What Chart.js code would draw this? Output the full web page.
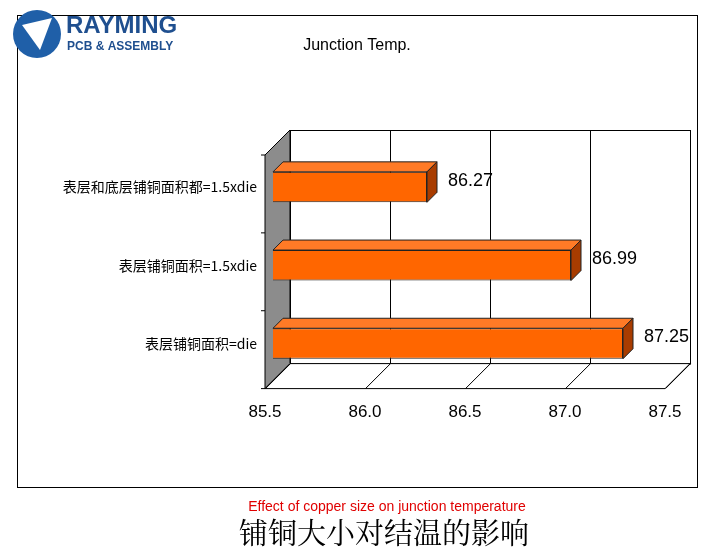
<!DOCTYPE html>
<html><head><meta charset="utf-8">
<script src="https://cdn.jsdelivr.net/npm/chart.js@4"></script>
<style>body{margin:0;background:#fff;}canvas{display:block}</style>
</head><body>
<canvas id="c" width="717" height="560"></canvas>
<script>
const categories = ["表层和底层铺铜面积都=1.5xdie", "表层铺铜面积=1.5xdie", "表层铺铜面积=die"];
const values = [86.27, 86.99, 87.25];
const xTicks = [85.5, 86.0, 86.5, 87.0, 87.5];

const D = 25, d = 10, S = 8;
const deco = {
  id: 'deco',
  beforeDraw(chart) {
    const c = chart.ctx;
    c.save();
    c.fillStyle = '#fff'; c.fillRect(0,0,717,560);
    c.strokeStyle = '#000'; c.lineWidth = 1;
    c.strokeRect(17.5,15.5,680,472);
    c.fillStyle = '#1f5fa8';
    c.beginPath(); c.arc(37,34,24,0,Math.PI*2); c.fill();
    c.fillStyle = '#fff';
    c.beginPath(); c.moveTo(22,25); c.lineTo(52,18); c.lineTo(40,50); c.closePath(); c.fill();
    c.fillStyle = '#1f4f8f';
    c.font = 'bold 24px "Liberation Sans", Arial';
    c.textBaseline = 'alphabetic'; c.textAlign = 'left';
    c.fillText('RAYMING', 66, 33);
    c.font = 'bold 12px "Liberation Sans", Arial';
    c.fillText('PCB & ASSEMBLY', 67, 50);
    c.fillStyle = '#000'; c.textAlign = 'center';
    c.font = '16px "Liberation Sans", Arial';
    c.fillText('Junction Temp.', 357, 50);
    c.fillStyle = '#e00000'; c.font = '14px "Liberation Sans", Arial';
    c.fillText('Effect of copper size on junction temperature', 387, 511);
    c.fillStyle = '#000'; c.font = '29px "Noto Serif CJK SC", "Noto Sans CJK SC", serif';
    c.fillText('铺铜大小对结温的影响', 384, 544);
    c.restore();
  },
  beforeDatasetsDraw(chart) {
    const c = chart.ctx, xs = chart.scales.x, a = chart.chartArea;
    const L = a.left, R = a.right, B = a.bottom + 6, T = a.top + 7;
    c.save(); c.strokeStyle = '#000'; c.lineWidth = 1;
    c.fillStyle = '#fff';
    c.fillRect(L+D, T-D, R-L, B-T);
    c.strokeRect(L+D+.5, T-D+.5, R-L, B-T);
    c.fillStyle = '#8c8c8c';
    c.beginPath(); c.moveTo(L,B); c.lineTo(L,T); c.lineTo(L+D,T-D); c.lineTo(L+D,B-D); c.closePath(); c.fill(); c.stroke();
    c.fillStyle = '#fff';
    c.beginPath(); c.moveTo(L,B); c.lineTo(R,B); c.lineTo(R+D,B-D); c.lineTo(L+D,B-D); c.closePath(); c.fill(); c.stroke();
    xTicks.forEach(v => {
      const x = Math.round(xs.getPixelForValue(v)) + .5;
      c.beginPath(); c.moveTo(x+D, T-D); c.lineTo(x+D, B-D); c.lineTo(x, B); c.stroke();
    });
    for (let i=0;i<=3;i++){ const y = T + (B-T)*i/3; c.beginPath(); c.moveTo(L-4,y); c.lineTo(L,y); c.stroke(); }
    c.restore();
    c.save(); c.translate(S, 0);
  },
  afterDatasetsDraw(chart) {
    const c = chart.ctx, meta = chart.getDatasetMeta(0);
    c.restore();
    c.save(); c.strokeStyle = '#222'; c.lineWidth = 1;
    meta.data.forEach((bar, i) => {
      const x0 = bar.base + S, x1 = bar.x + S, h = bar.height, y0 = bar.y - h/2, y1 = bar.y + h/2;
      c.fillStyle = '#ff7a26';
      c.beginPath(); c.moveTo(x0,y0); c.lineTo(x1,y0); c.lineTo(x1+d,y0-d); c.lineTo(x0+d,y0-d); c.closePath(); c.fill(); c.stroke();
      c.fillStyle = '#a83c00';
      c.beginPath(); c.moveTo(x1,y0); c.lineTo(x1+d,y0-d); c.lineTo(x1+d,y1-d); c.lineTo(x1,y1); c.closePath(); c.fill(); c.stroke();
      c.fillStyle = '#000'; c.font = '18px "Liberation Sans", Arial';
      c.textAlign = 'left'; c.textBaseline = 'middle';
      c.fillText(values[i].toFixed(2), x1 + 21, y0 + 9);
    });
    c.restore();
  }
};

new Chart(document.getElementById('c'), {
  type: 'bar',
  data: { labels: categories, datasets: [{ data: values, backgroundColor: '#ff6600', borderColor: '#222', borderWidth: 1,
    barPercentage: 0.39, categoryPercentage: 1, base: 85.5 }] },
  options: {
    indexAxis: 'y', responsive: false, devicePixelRatio: 1, animation: false,
    events: [],
    layout: { padding: { left: 0, right: 52, top: 148, bottom: 125 } },
    plugins: { legend: { display: false }, tooltip: { enabled: false } },
    scales: {
      x: { min: 85.5, max: 87.5, afterBuildTicks: s => { s.ticks = xTicks.map(v => ({ value: v })); },
        grid: { display: false }, border: { display: false },
        ticks: { color: '#000', font: { size: 17, family: '"Liberation Sans", Arial' }, padding: 12, callback: v => v.toFixed(1) } },
      y: { grid: { display: false }, border: { display: false }, afterFit: s => { s.width = 265; },
        ticks: { color: '#000', font: { size: 14, family: '"Noto Sans CJK SC", sans-serif' }, padding: 0 } }
    }
  },
  plugins: [deco]
});
</script>
</body></html>
